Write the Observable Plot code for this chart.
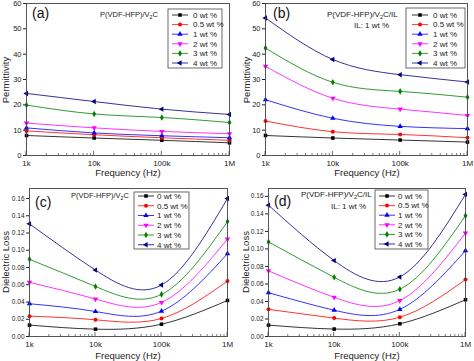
<!DOCTYPE html>
<html><head><meta charset="utf-8">
<script src="https://cdn.jsdelivr.net/npm/d3@7"></script>
<script src="https://cdn.jsdelivr.net/npm/@observablehq/plot@0.6"></script>
<style>
body{margin:0;background:#fff;}
#c{position:relative;width:474px;height:361px;overflow:hidden;font-family:"Liberation Sans",Arial,sans-serif;}
#c svg{position:absolute;}
</style></head><body><div id="c"></div>
<script>
// ---- data ----
const frequencies = [1e3, 1e4, 1e5, 1e6];
const frequencyLabels = ["1k", "10k", "100k", "1M"];
const series = ["0 wt %", "0.5 wt %", "1 wt %", "2 wt %", "3 wt %", "4 wt %"];
const colors = ["#000000", "#ff0000", "#0000ff", "#ff00ff", "#008000", "#000080"];
const permittivityA = [[7.9,6.9,6.0,5.0],[9.7,8.2,7.0,6.0],[10.9,8.9,7.8,7.0],[12.8,10.9,9.5,8.6],[19.9,16.4,15.0,13.0],[24.5,21.3,18.3,16.2]];
const permittivityB = [[7.9,6.9,6.1,5.3],[13.6,9.4,8.3,7.0],[22.0,14.7,11.5,10.6],[35.2,22.6,18.3,15.8],[42.4,28.9,25.3,23.0],[54.3,37.9,31.9,29.0]];
const lossC = [[0.0132,0.0085,0.0143,0.0418],[0.0236,0.0194,0.0209,0.0643],[0.038,0.029,0.0294,0.096],[0.0628,0.0434,0.0395,0.113],[0.0895,0.058,0.0488,0.1333],[0.1306,0.077,0.0597,0.16]];
const lossD = [[0.013,0.0085,0.0145,0.042],[0.031,0.021,0.022,0.065],[0.050,0.030,0.031,0.098],[0.075,0.0447,0.041,0.118],[0.108,0.0676,0.054,0.138],[0.150,0.0867,0.068,0.1623]];
const permittivityTicks = [0, 10, 20, 30, 40, 50, 60];
const lossTicks = [0, 0.02, 0.04, 0.06, 0.08, 0.10, 0.12, 0.14, 0.16];

// ---- symbols ----
const triDown = {draw(ctx, size){const s=Math.sqrt(size/(3*Math.sqrt(3)));ctx.moveTo(0,2*s);ctx.lineTo(-Math.sqrt(3)*s,-s);ctx.lineTo(Math.sqrt(3)*s,-s);ctx.closePath();}};
const triLeft = {draw(ctx, size){const s=Math.sqrt(size/(3*Math.sqrt(3)));ctx.moveTo(-2*s,0);ctx.lineTo(s,-Math.sqrt(3)*s);ctx.lineTo(s,Math.sqrt(3)*s);ctx.closePath();}};
const symbols = [d3.symbolSquare, d3.symbolCircle, d3.symbolTriangle, triDown, d3.symbolDiamond, triLeft];

const container = document.getElementById("c");

function titleText(g, x, y, parts, size) {
  const t = g.append("text").attr("x", x).attr("y", y).attr("font-size", size).attr("fill", "#222").attr("text-anchor", "start");
  parts.forEach(p => {
    if (p.sub) t.append("tspan").attr("dy", 2).attr("font-size", size*0.7).text(p.t);
    else if (p.after) t.append("tspan").attr("dy", -2).text(p.t);
    else t.append("tspan").text(p.t);
  });
  return t;
}

function panel(cfg) {
  const data = [];
  series.forEach((s, i) => frequencies.forEach((f, j) => data.push({series: s, freq: f, value: cfg.values[i][j]})));
  const plot = Plot.plot({
    width: cfg.width, height: cfg.height,
    marginLeft: cfg.m[0], marginRight: cfg.m[1], marginTop: cfg.m[2], marginBottom: cfg.m[3],
    style: {background: "transparent", fontFamily: "Liberation Sans, Arial, sans-serif", fontSize: "8px", color: "#222", overflow: "visible"},
    x: {type: "log", domain: [1e3, 1e6], ticks: frequencies, tickFormat: d => frequencyLabels[frequencies.indexOf(d)], tickSize: 0, tickPadding: 5, label: null},
    y: {domain: cfg.yDomain, ticks: cfg.yTicks, tickFormat: cfg.yFormat, tickSize: 3, tickPadding: 2, label: null},
    color: {domain: series, range: colors},
    symbol: {domain: series, range: symbols},
    marks: [
      Plot.line(data, {x: "freq", y: "value", z: "series", stroke: "series", curve: "natural", strokeWidth: 0.8}),
      Plot.dot(data, {x: "freq", y: "value", fill: "series", symbol: "series", r: 2, stroke: "none"}),
      Plot.frame({stroke: "#444", strokeWidth: 0.9})
    ]
  });
  plot.style.left = cfg.left + "px";
  plot.style.top = cfg.top + "px";
  container.appendChild(plot);
  const svg = d3.select(plot);
  svg.selectAll('g[aria-label^="y-axis"] text').attr("font-size", cfg.yTickFont);
  const xs = plot.scale("x");
  const bottom = cfg.height - cfg.m[3];
  const g = svg.append("g").attr("text-anchor", "start");
  // x ticks (inward), major + minor
  const minor = [];
  for (let k = 1e3; k < 1e6; k *= 10) for (let m = 2; m < 10; m++) minor.push(k*m);
  frequencies.forEach(f => g.append("line").attr("x1", xs.apply(f)).attr("x2", xs.apply(f)).attr("y1", bottom).attr("y2", bottom-4).attr("stroke", "#444").attr("stroke-width", 0.8));
  minor.forEach(f => g.append("line").attr("x1", xs.apply(f)).attr("x2", xs.apply(f)).attr("y1", bottom).attr("y2", bottom-2).attr("stroke", "#444").attr("stroke-width", 0.7));
  // axis titles
  g.append("text").attr("x", cfg.xLabelX).attr("y", cfg.xLabelY).attr("text-anchor", "middle").attr("font-size", 9.5).attr("fill", "#222").text("Frequency (Hz)");
  g.append("text").attr("transform", `translate(${cfg.yLabelX},${cfg.yLabelY}) rotate(-90)`).attr("text-anchor", "middle").attr("dy", "0.35em").attr("font-size", 9.5).attr("fill", "#222").text(cfg.yLabel);
  // panel tag and title
  g.append("text").attr("x", cfg.tag[0]).attr("y", cfg.tag[1]).attr("font-size", 14).attr("fill", "#111").text(cfg.tag[2]);
  titleText(g, cfg.titlePos[0], cfg.titlePos[1], cfg.titleParts, cfg.titleFont);
  if (cfg.sub) g.append("text").attr("x", cfg.sub[0]).attr("y", cfg.sub[1]).attr("font-size", 8).attr("fill", "#222").text(cfg.sub[2]);
  // legend
  const L = cfg.legend;
  g.append("rect").attr("x", L.x0).attr("y", L.y0).attr("width", L.x1-L.x0).attr("height", L.y1-L.y0).attr("fill", "#fff").attr("stroke", "#444").attr("stroke-width", 0.8);
  series.forEach((s, i) => {
    const y = L.ey + i*L.dy;
    g.append("line").attr("x1", L.lx).attr("x2", L.lx+16).attr("y1", y).attr("y2", y).attr("stroke", colors[i]).attr("stroke-width", 0.8);
    g.append("path").attr("transform", `translate(${L.lx+8},${y})`).attr("d", d3.symbol(symbols[i], 12.5)()).attr("fill", colors[i]);
    g.append("text").attr("x", L.tx).attr("y", y).attr("dy", "0.35em").attr("font-size", 8).attr("fill", "#222").text(s);
  });
}

const fmt2 = d3.format(".2f");
panel({left: 0, top: 0, width: 237, height: 180, m: [26, 8, 3, 25], yDomain: [0, 60], yTicks: permittivityTicks, yFormat: d3.format("d"), yTickFont: 7.5,
  values: permittivityA, yLabel: "Permittivity", yLabelX: 6, yLabelY: 80, xLabelX: 128, xLabelY: 176,
  tag: [32, 18, "(a)"], titlePos: [100, 17], titleFont: 7.5, titleParts: [{t: "P(VDF-HFP)/V"}, {t: "2", sub: true}, {t: "C", after: true}],
  legend: {x0: 168, y0: 9, x1: 222, y1: 68, ey: 15, dy: 9.6, lx: 172, tx: 193}});
panel({left: 237, top: 0, width: 237, height: 180, m: [28, 7, 3, 25], yDomain: [0, 60], yTicks: permittivityTicks, yFormat: d3.format("d"), yTickFont: 7.5,
  values: permittivityB, yLabel: "Permittivity", yLabelX: 10, yLabelY: 80, xLabelX: 130, xLabelY: 176,
  tag: [36, 18, "(b)"], titlePos: [90, 17], titleFont: 8, titleParts: [{t: "P(VDF-HFP)/V"}, {t: "2", sub: true}, {t: "C/IL", after: true}],
  sub: [117, 28, "IL: 1 wt %"],
  legend: {x0: 169, y0: 8, x1: 228, y1: 68, ey: 15, dy: 9.6, lx: 175, tx: 196}});
panel({left: 0, top: 180, width: 237, height: 181, m: [29, 10, 8, 25], yDomain: [0, 0.1716], yTicks: lossTicks, yFormat: fmt2, yTickFont: 6.5,
  values: lossC, yLabel: "Dielectric Loss", yLabelX: 6, yLabelY: 82, xLabelX: 128, xLabelY: 179,
  tag: [35, 27, "(c)"], titlePos: [71, 18], titleFont: 7.5, titleParts: [{t: "P(VDF-HFP)/V"}, {t: "2", sub: true}, {t: "C", after: true}],
  legend: {x0: 134, y0: 12, x1: 189, y1: 69, ey: 16, dy: 9.75, lx: 138, tx: 157}});
panel({left: 237, top: 180, width: 237, height: 181, m: [31, 9, 8, 25], yDomain: [0, 0.169], yTicks: lossTicks, yFormat: fmt2, yTickFont: 6.5,
  values: lossD, yLabel: "Dielectric Loss", yLabelX: 9, yLabelY: 82, xLabelX: 130, xLabelY: 179,
  tag: [37, 26, "(d)"], titlePos: [64, 17], titleFont: 8, titleParts: [{t: "P(VDF-HFP)/V"}, {t: "2", sub: true}, {t: "C/IL", after: true}],
  sub: [94, 29, "IL: 1 wt %"],
  legend: {x0: 138, y0: 10, x1: 191, y1: 69, ey: 16, dy: 9.6, lx: 142, tx: 161}});
</script></body></html>
